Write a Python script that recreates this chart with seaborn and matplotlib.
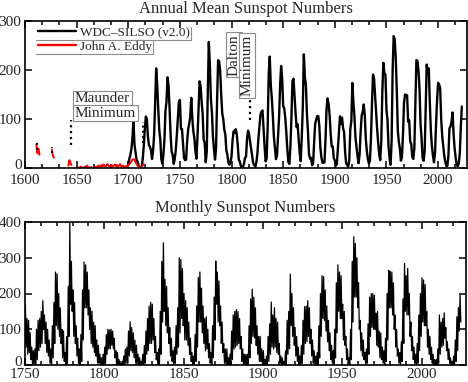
import numpy as np
import pandas as pd
import matplotlib
matplotlib.use("Agg")
import matplotlib.pyplot as plt
import seaborn as sns
from matplotlib.ticker import MultipleLocator, AutoMinorLocator
from matplotlib.lines import Line2D
from matplotlib.transforms import Bbox, ScaledTranslation

# ---------------- data ----------------
annual_years = list(range(1700, 2024))
annual_ssn = [
    8.3, 18.3, 26.7, 38.3, 60.0, 96.7, 48.3, 33.3, 16.7, 13.3,
    5.0, 0.0, 0.0, 3.3, 18.3, 45.0, 78.3, 105.0, 100.0, 65.0,
    46.7, 43.3, 36.7, 18.3, 35.0, 66.7, 130.0, 203.3, 171.7, 121.7,
    78.3, 58.3, 18.3, 8.3, 26.7, 56.7, 116.7, 135.0, 185.0, 168.3,
    121.7, 66.7, 33.3, 26.7, 8.3, 18.3, 36.7, 66.7, 100.0, 134.8,
    139.0, 79.5, 79.7, 51.2, 20.3, 16.0, 17.0, 54.0, 79.3, 90.0,
    104.8, 143.2, 102.0, 75.2, 60.7, 34.8, 19.0, 63.0, 116.3, 176.8,
    168.0, 136.0, 110.8, 58.0, 51.0, 11.7, 33.0, 154.2, 257.3, 209.8,
    141.3, 113.5, 64.2, 38.0, 17.0, 40.2, 138.2, 220.0, 218.2, 196.8,
    149.8, 111.0, 100.0, 78.2, 68.3, 35.5, 26.7, 10.7, 6.8, 11.3,
    24.2, 56.7, 75.0, 71.8, 79.2, 70.3, 46.8, 16.8, 13.5, 4.2,
    0.0, 2.3, 8.3, 20.3, 23.2, 59.0, 76.3, 68.3, 52.9, 38.5,
    24.2, 9.2, 6.3, 2.2, 11.4, 28.2, 59.9, 83.0, 108.5, 115.2,
    117.4, 80.8, 44.3, 13.4, 19.5, 85.8, 192.7, 227.3, 168.7, 143.0,
    105.5, 63.3, 40.3, 18.1, 25.1, 65.8, 102.7, 166.3, 208.3, 182.5,
    126.3, 122.0, 102.7, 74.1, 39.0, 12.7, 8.2, 43.4, 104.4, 178.3,
    182.2, 146.6, 112.1, 83.5, 89.2, 57.8, 30.7, 13.9, 62.8, 123.6,
    232.0, 185.3, 169.2, 110.1, 74.5, 28.3, 18.9, 20.7, 5.7, 10.0,
    53.7, 90.5, 99.0, 106.1, 105.8, 86.3, 42.4, 21.8, 11.2, 10.4,
    11.8, 59.5, 121.7, 142.0, 130.0, 106.6, 69.4, 43.8, 44.4, 20.2,
    15.7, 4.6, 8.5, 40.8, 70.1, 105.5, 90.1, 102.8, 80.9, 73.2,
    30.9, 9.5, 6.0, 2.4, 16.1, 79.0, 95.0, 173.6, 134.6, 105.7,
    62.7, 43.5, 23.7, 9.7, 27.9, 74.0, 106.5, 114.7, 129.7, 108.2,
    59.4, 35.1, 18.6, 9.2, 14.6, 60.2, 132.8, 190.6, 182.6, 148.0,
    113.0, 79.2, 50.8, 27.1, 16.1, 55.3, 154.3, 214.7, 193.0, 190.7,
    118.9, 98.3, 45.0, 20.1, 6.6, 54.2, 200.7, 269.3, 261.7, 225.1,
    159.0, 76.4, 53.4, 39.9, 15.0, 22.0, 66.8, 132.9, 150.0, 149.4,
    148.0, 94.4, 97.6, 54.1, 49.2, 22.5, 18.4, 39.3, 131.0, 220.1,
    218.9, 198.9, 162.4, 91.0, 60.5, 20.6, 14.8, 33.9, 123.0, 211.1,
    191.8, 203.3, 133.0, 76.1, 44.9, 25.1, 11.6, 28.9, 88.3, 136.3,
    173.9, 170.4, 163.6, 99.3, 65.3, 45.8, 24.7, 12.6, 4.2, 4.8,
    24.9, 80.8, 84.5, 94.0, 113.3, 69.8, 39.8, 21.7, 7.0, 3.6,
    8.8, 29.6, 83.2, 125.5,
]

eddy_years = [1611, 1612, 1613, 1614, 1626, 1627, 1628, 1642, 1643, 1644, 1645] + list(range(1650, 1716))
eddy_ssn = [48, 30, 40, 27, 38, 25, 21, 5, 16, 10, 6,
            0, 2, 0, 0, 3, 0, 0, 2, 0, 3,
            5, 2, 0, 0, 2, 0, 0, 0, 2, 0,
            3, 5, 2, 4, 6, 3, 7, 5, 3, 6,
            8, 5, 2, 4, 6, 3, 5, 7, 4, 6,
            3, 5, 8, 4, 2, 5, 3, 2, 4, 3,
            5, 8, 10, 14, 17, 18, 17, 12, 8, 5,
            2, 0, 0, 2, 5, 8]

early_years = [1612, 1626, 1714]
early_low = [36, 30, 51]
early_high = [53, 43, 93]

minima_x = [1645, 1818]
minima_lo = [47, 97]
minima_hi = [97, 148]

series_labels = ["WDC–SILSO (v2.0)", "John A. Eddy"]
series_colors = ["black", "#ff0000"]

monthly_years = list(range(1749, 2025))
monthly_max = [
    200, 170, 130, 125, 90, 50, 40, 45, 100, 125, 130,
    150, 180, 140, 120, 100, 70, 45, 110, 175, 260,
    255, 200, 160, 100, 95, 35, 80, 220, 398, 290,
    210, 175, 110, 75, 45, 85, 210, 288, 280, 260,
    210, 160, 150, 120, 110, 70, 55, 30, 20, 30,
    50, 85, 100, 98, 100, 95, 75, 40, 35, 15,
    3, 10, 25, 45, 50, 95, 121, 105, 90, 70,
    55, 30, 20, 10, 30, 55, 95, 130, 165, 175,
    170, 130, 80, 35, 45, 150, 290, 342, 240, 220,
    160, 105, 75, 40, 50, 110, 160, 300, 295, 270,
    200, 180, 160, 120, 75, 35, 25, 85, 165, 245,
    260, 215, 165, 130, 135, 100, 60, 35, 110, 190,
    291, 260, 235, 165, 120, 60, 45, 45, 20, 30,
    95, 140, 150, 155, 150, 130, 80, 45, 30, 30,
    30, 110, 185, 212, 190, 160, 110, 80, 80, 45,
    40, 15, 25, 80, 115, 176, 140, 160, 130, 120,
    60, 25, 20, 10, 40, 125, 150, 254, 200, 160,
    105, 80, 50, 25, 55, 125, 163, 165, 180, 160,
    100, 70, 40, 25, 35, 110, 200, 250, 247, 210,
    165, 125, 90, 55, 40, 100, 230, 280, 260, 250,
    170, 150, 80, 45, 20, 100, 290, 359, 340, 300,
    230, 125, 90, 70, 35, 45, 115, 190, 200, 200,
    195, 145, 150, 95, 90, 50, 40, 75, 200, 265,
    262, 260, 230, 140, 100, 45, 35, 65, 185, 284,
    250, 270, 200, 120, 80, 50, 30, 60, 140, 200,
    244, 238, 225, 150, 100, 80, 50, 30, 15, 15,
    45, 140, 120, 130, 146, 105, 65, 45, 20, 10,
    25, 70, 135, 160, 196,
]
monthly_min = [
    60, 50, 30, 35, 15, 0, 0, 0, 15, 40, 50,
    60, 100, 60, 35, 25, 5, 0, 20, 60, 110,
    100, 80, 60, 20, 10, 0, 5, 80, 170, 150,
    80, 60, 25, 5, 0, 10, 70, 160, 160, 140,
    100, 60, 50, 35, 25, 5, 5, 0, 0, 0,
    5, 30, 45, 45, 55, 45, 20, 0, 0, 0,
    0, 0, 0, 5, 5, 25, 40, 35, 20, 10,
    5, 0, 0, 0, 0, 5, 30, 40, 60, 60,
    70, 35, 15, 0, 0, 30, 120, 150, 110, 90,
    60, 25, 10, 0, 5, 30, 50, 90, 130, 110,
    70, 70, 55, 30, 10, 0, 0, 10, 50, 120,
    120, 90, 60, 40, 45, 20, 5, 0, 20, 70,
    170, 120, 110, 60, 35, 5, 0, 0, 0, 0,
    15, 45, 50, 55, 60, 45, 10, 0, 0, 0,
    0, 20, 60, 80, 75, 55, 30, 10, 10, 0,
    0, 0, 0, 10, 30, 50, 45, 50, 35, 30,
    5, 0, 0, 0, 0, 30, 45, 110, 80, 55,
    25, 10, 0, 0, 5, 30, 60, 65, 80, 60,
    25, 5, 0, 0, 0, 20, 80, 130, 125, 95,
    65, 40, 15, 5, 0, 20, 90, 150, 130, 130,
    70, 55, 15, 0, 0, 15, 120, 190, 190, 160,
    100, 40, 25, 15, 0, 5, 30, 80, 105, 100,
    100, 55, 50, 20, 15, 5, 0, 10, 70, 160,
    160, 140, 100, 50, 25, 5, 0, 10, 60, 150,
    140, 140, 80, 40, 15, 5, 0, 5, 40, 80,
    120, 110, 110, 50, 30, 15, 5, 0, 0, 0,
    5, 30, 50, 55, 75, 40, 15, 5, 0, 0,
    0, 10, 40, 95, 120,
]

# ---------------- frames ----------------
df_annual = pd.DataFrame({"year": annual_years, "ssn": annual_ssn})

ey = np.array(eddy_years)
seg = np.concatenate([[0], np.cumsum(np.diff(ey) > 1)])
df_eddy = pd.DataFrame({"year": ey, "ssn": eddy_ssn, "seg": seg})

my = np.array(monthly_years, dtype=float)
t = np.column_stack([my + 0.25, my + 0.75]).ravel()
v = np.column_stack([monthly_max, monthly_min]).ravel()
df_month = pd.DataFrame({"t": t, "ssn": v})

# ---------------- style ----------------
sns.set_style("ticks")
plt.rcParams["font.family"] = ["Liberation Serif", "DejaVu Serif"]
plt.rcParams["axes.linewidth"] = 1.2

W, H = 468, 382
fig = plt.figure(figsize=(W / 100, H / 100), dpi=100)
ax1 = fig.add_axes([25 / W, (H - 168) / H, 442 / W, 147 / H])
ax2 = fig.add_axes([25 / W, (H - 365) / H, 441 / W, 143 / H])

# ---------------- top panel ----------------
sns.lineplot(data=df_annual, x="year", y="ssn", ax=ax1, color=series_colors[0], lw=1.7,
             legend=False)
sns.lineplot(data=df_eddy, x="year", y="ssn", units="seg", estimator=None, ax=ax1,
             color=series_colors[1], lw=1.4, legend=False)
ax1.vlines(early_years, early_low, early_high, colors="black", linestyles=":", lw=1.4)
ax1.vlines(minima_x, minima_lo, minima_hi, colors="black", linestyles=":", lw=1.6)

box = dict(boxstyle="square,pad=0.12", fc="white", ec="0.55", lw=0.8)
ax1.text(1648.4, 141, "Maunder", fontsize=11, ha="left", va="center", bbox=box)
ax1.text(1648.4, 112, "Minimum", fontsize=11, ha="left", va="center", bbox=box)
ax1.text(1802.4, 231, "Dalton", fontsize=11, ha="center", va="center", rotation=90, bbox=box)
ax1.text(1815.0, 210, "Minimum", fontsize=11, ha="center", va="center", rotation=90, bbox=box)

ax1.set_xlim(1600, 2028)
ax1.set_ylim(0, 300)
ax1.xaxis.set_major_locator(MultipleLocator(50))
ax1.xaxis.set_minor_locator(AutoMinorLocator(3))
ax1.yaxis.set_major_locator(MultipleLocator(100))
ax1.set_title("Annual Mean Sunspot Numbers", fontsize=12, pad=6)

handles = [Line2D([], [], color=c, lw=1.7) for c in series_colors]
leg = ax1.legend(handles, series_labels, loc="upper left", bbox_to_anchor=(0.029, 0.96),
                 frameon=False, fontsize=9.5, handlelength=2.9, handletextpad=0.3,
                 labelspacing=0.12, borderaxespad=0, borderpad=0)

# ---------------- bottom panel ----------------
sns.lineplot(data=df_month, x="t", y="ssn", ax=ax2, color="black", lw=0.9,
             estimator=None, sort=False)
ax2.set_xlim(1750, 2028)
ax2.set_ylim(0, 400)
ax2.xaxis.set_major_locator(MultipleLocator(50))
ax2.xaxis.set_minor_locator(AutoMinorLocator(5))
ax2.yaxis.set_major_locator(MultipleLocator(100))
ax2.set_title("Monthly Sunspot Numbers", fontsize=12, pad=7)

for ax, xpad in ((ax1, 4.5), (ax2, 2.0)):
    ax.set_xlabel("")
    ax.set_ylabel("")
    ax.tick_params(which="both", direction="in", top=True, right=True,
                   labelsize=11, color="black")
    ax.tick_params(axis="y", pad=2.5)
    ax.tick_params(axis="x", pad=xpad)
    ax.tick_params(which="major", length=5, width=1.1)
    ax.tick_params(which="minor", length=3, width=1.1)
    for s in ax.spines.values():
        s.set_color("black")
        s.set_linewidth(1.2)
        s.set_visible(True)

# raise the "0" labels slightly, as in the reference
fig.canvas.draw()
for ax, dy in ((ax1, 4), (ax2, 4)):
    for lab in ax.get_yticklabels():
        if lab.get_text() == "0":
            lab.set_transform(lab.get_transform() + ScaledTranslation(0, dy / 100, fig.dpi_scale_trans))

# legend entry frames (right + bottom edges)
r = fig.canvas.get_renderer()
for h, tx in zip(leg.legend_handles, leg.get_texts()):
    bb = Bbox.union([h.get_window_extent(r), tx.get_window_extent(r)])
    x0, x1 = bb.x0 - 2, bb.x1 + 1
    y0, y1 = bb.y0 - 1, bb.y1
    fig.add_artist(Line2D([x0, x1, x1], [y0, y0, y1], transform=None,
                          color="0.55", lw=0.8))

fig.savefig("out.png", dpi=100)
